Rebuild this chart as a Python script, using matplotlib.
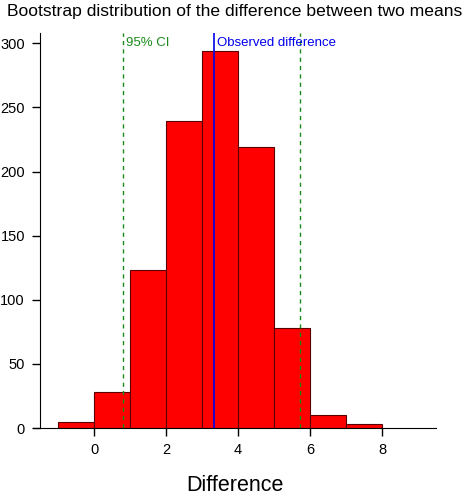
import numpy as np
import matplotlib.pyplot as plt

plt.rcParams['font.family'] = ['Liberation Sans', 'DejaVu Sans']

# histogram bins (width 1) and counts
bin_edges = [-1, 0, 1, 2, 3, 4, 5, 6, 7, 8]
counts = [5, 28, 123, 239, 294, 219, 78, 10, 3]

ci_low = 0.8
ci_high = 5.72
observed = 3.33

x_ticks = [0, 2, 4, 6, 8]
y_ticks = [0, 50, 100, 150, 200, 250, 300]

fig = plt.figure(figsize=(4.74, 4.96), dpi=100)
ax = fig.add_axes([33 / 474, 1 - 428 / 496, (436 - 33) / 474, (428 - 33) / 496])

ax.bar(bin_edges[:-1], counts, width=np.diff(bin_edges), align='edge',
       color='#ff0000', edgecolor='#5a0000', linewidth=0.8)

ax.axvline(ci_low, color='#1a8a1a', linestyle=(0, (3, 3)), linewidth=1)
ax.axvline(ci_high, color='#1a8a1a', linestyle=(0, (3, 3)), linewidth=1)
ax.axvline(observed, color='#0000ee', linewidth=1.2)

ax.text(ci_low + 0.08, 300, '95% CI', color='#1a8a1a', fontsize=9.5, va='center')
ax.text(observed + 0.08, 300, 'Observed difference', color='#0000ee', fontsize=9.5, va='center')

ax.set_xlim(-1.7, 9.5)
ax.set_ylim(0, 308)
ax.set_xticks(x_ticks)
ax.set_yticks(y_ticks)
ax.tick_params(labelsize=10.5, length=6, width=1, direction='out', pad=5)

ax.spines['top'].set_visible(False)
ax.spines['right'].set_visible(False)
ax.spines['left'].set_position(('data', -1.5))

ax.set_title('Bootstrap distribution of the difference between two means',
             fontsize=12.6, pad=12)
ax.set_xlabel('Difference', fontsize=15.5, labelpad=13)

plt.savefig('out.png', dpi=100)
